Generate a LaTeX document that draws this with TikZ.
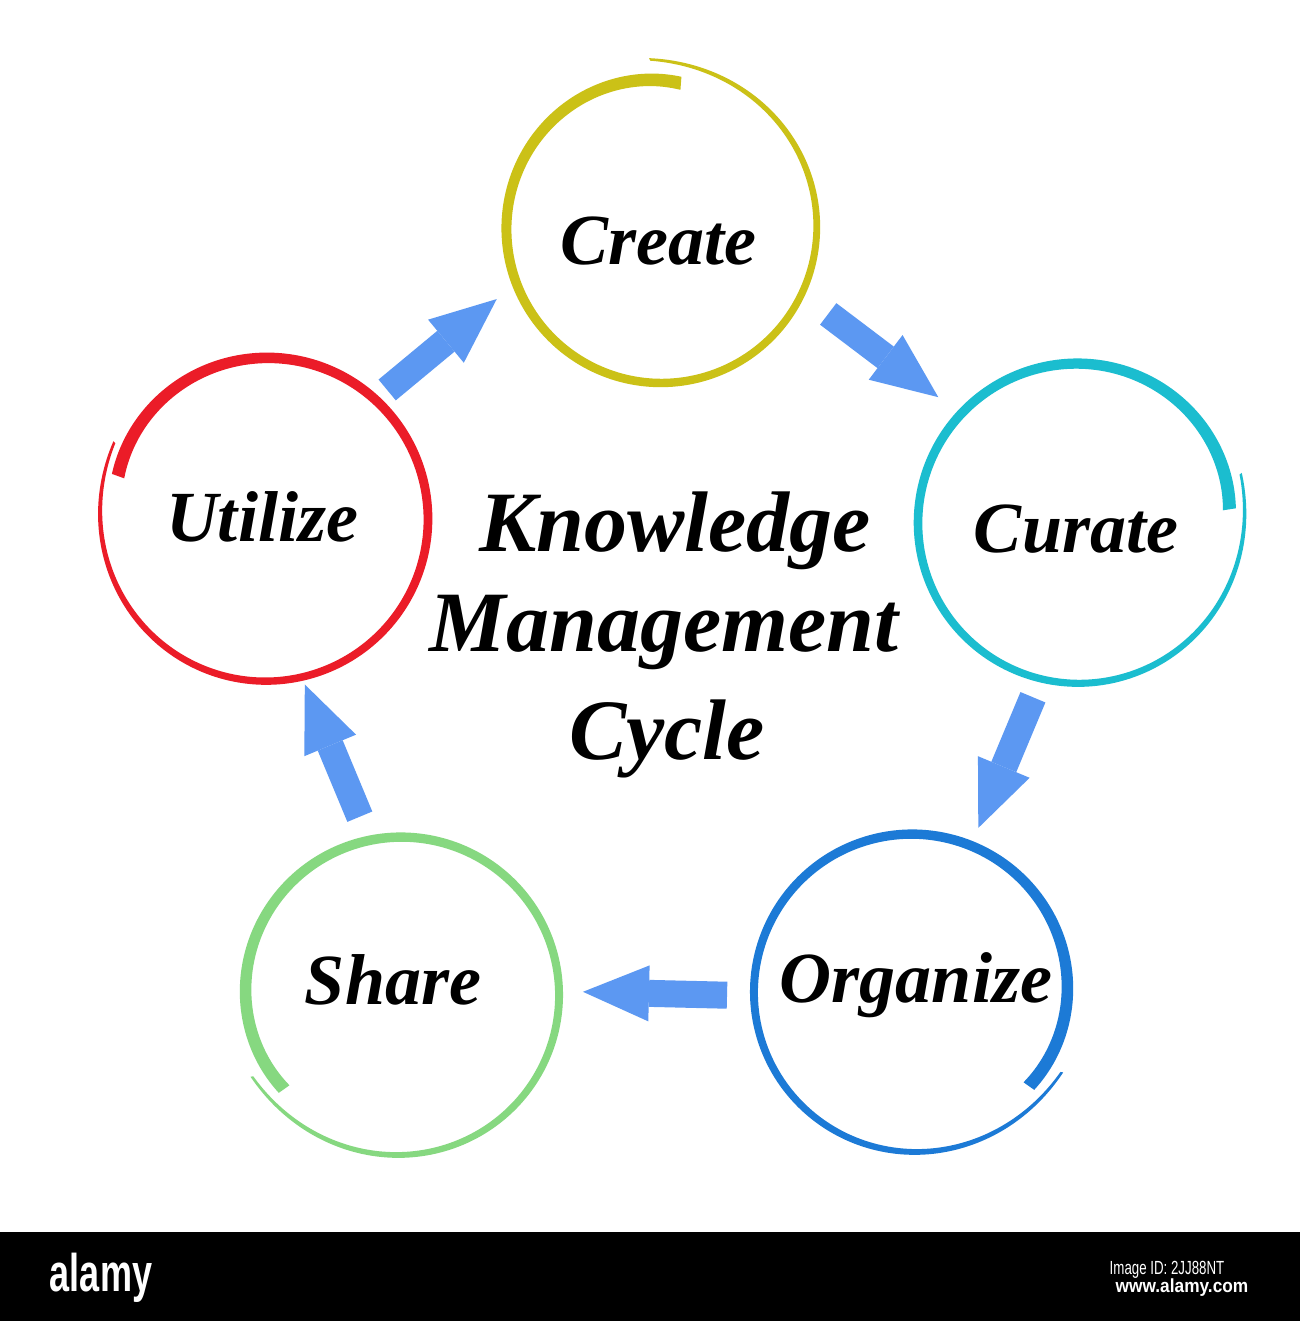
\documentclass[tikz,border=0pt]{standalone}
\usepackage{fontspec}
\setmainfont{Liberation Serif}
\newfontfamily\wmfont{Liberation Sans}
\usetikzlibrary{arrows.meta,calc}
\definecolor{createcol}{RGB}{203,193,23}
\definecolor{curatecol}{RGB}{27,189,207}
\definecolor{organizecol}{RGB}{28,122,214}
\definecolor{sharecol}{RGB}{134,216,128}
\definecolor{utilizecol}{RGB}{235,28,40}
\definecolor{arrowcol}{RGB}{92,152,242}
\newcommand{\brushring}[8]{%
  \fill[#8] plot[domain=0:1,samples=220,variable=\t,smooth]
    ({#1+(ringr(\t,#5,#6,#7)+0.5*ringw(\t))*cos(ringa(\t,#3,#4))},
     {#2+(ringr(\t,#5,#6,#7)+0.5*ringw(\t))*sin(ringa(\t,#3,#4))})
    -- plot[domain=0:1,samples=220,variable=\t,smooth]
    ({#1+(ringr(1-\t,#5,#6,#7)-0.5*ringw(1-\t))*cos(ringa(1-\t,#3,#4))},
     {#2+(ringr(1-\t,#5,#6,#7)-0.5*ringw(1-\t))*sin(ringa(1-\t,#3,#4))})
    -- cycle;}
\tikzset{
  ringnode/.style={circle,minimum size=360pt,inner sep=0pt,draw=none},
  lbl/.style={anchor=base,inner sep=0pt,font=\fontsize{72}{80}\selectfont\bfseries\itshape},
  ttl/.style={anchor=base,inner sep=0pt,font=\fontsize{86}{95}\selectfont\bfseries\itshape},
  blockarrow/.style={draw=arrowcol,line width=27pt,
    -{Triangle[length=66pt,width=56pt,line width=0pt,fill=arrowcol]}},
}
\begin{document}
\begin{tikzpicture}[x=1pt,y=1pt,
  declare function={
    ringr(\t,\a,\b,\c)=\b+(\a-\b)*(1-\t)^10+(\c-\b)*\t^10;
    ringw(\t)=2.5+5.5*(1-(1-\t)^5)+5*\t^3;
    ringa(\t,\a,\b)=\a+(\b-\a)*\t;
  }]
\useasboundingbox (0,0) rectangle (1300,1321);
\fill[white] (0,0) rectangle (1300,1321);

% hand-drawn rings: cx cy a_thin a_thick r_thin r_mid r_thick colour
\brushring{661}{1093}{94}{-278}{169}{155}{146}{createcol}
\brushring{1078}{798}{17}{-355}{170}{160}{152}{curatecol}
\brushring{912}{329}{-28}{-399}{170}{158}{150}{organizecol}
\brushring{401}{326}{208.5}{579}{170}{158}{150}{sharecol}
\brushring{266}{802}{153}{524}{170}{162}{154}{utilizecol}

% ring nodes
\node[ringnode] (create) at (661,1093) {};
\node[ringnode] (curate) at (1078,798) {};
\node[ringnode] (organize) at (912,329) {};
\node[ringnode] (share) at (401,326) {};
\node[ringnode] (utilize) at (266,802) {};

% labels
\node[lbl] (createlbl) at (658,1056) {Create};
\node[lbl] (curatelbl) at (1076,768) {Curate};
\node[lbl] (organizelbl) at (916,318) {Organize};
\node[lbl] (sharelbl) at (393,316) {Share};
\node[lbl] (utilizelbl) at (262,779) {Utilize};

% title
\node[ttl] (title1) at (675,769) {Knowledge};
\node[ttl] (title2) at (664,669) {Management};
\node[ttl] (title3) at (667,561) {Cycle};

% arrows
\draw[blockarrow] ($(utilize.center)+(46.8:177)$) -- ($(create.center)+(203.4:179)$);
\draw[blockarrow] ($(create.center)+(-27.2:188)$) -- ($(curate.center)+(138:188)$);
\draw[blockarrow] ($(curate.center)+(255.5:180)$) -- ($(organize.center)+(68:177)$);
\draw[blockarrow] ($(organize.center)+(181:185)$) -- ($(share.center)+(1:182)$);
\draw[blockarrow] ($(share.center)+(103:183)$) -- ($(utilize.center)+(-76.8:170)$);

% footer bar
\fill[black] (0,0) rectangle (1300,89);
\node[anchor=base,inner sep=0pt,text=white,font=\wmfont\bfseries\fontsize{53}{53}\selectfont] (logo) at (101,29) {\scalebox{0.68}[1]{alamy}};
\node[anchor=base,inner sep=0pt,text=white,font=\wmfont\fontsize{19}{19}\selectfont] (imgid) at (1167,46) {\scalebox{0.70}[1]{Image ID: 2JJ88NT}};
\node[anchor=base,inner sep=0pt,text=white,font=\wmfont\bfseries\fontsize{19}{19}\selectfont] (site) at (1182,28) {\scalebox{0.91}[1]{www.alamy.com}};
\end{tikzpicture}
\end{document}
